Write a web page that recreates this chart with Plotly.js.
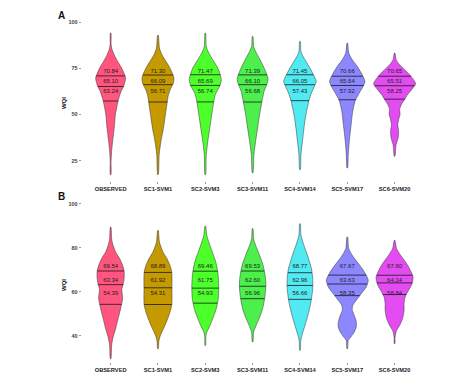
<!DOCTYPE html>
<html><head><meta charset="utf-8">
<script src="https://cdn.plot.ly/plotly-3.0.1.min.js"></script>
<style>html,body{margin:0;padding:0;background:#fff}#chart{width:474px;height:379px}</style>
</head><body><div id="chart"></div>
<script>
// ---- data ----
const categories = ["OBSERVED","SC1-SVM1","SC2-SVM3","SC3-SVM11","SC4-SVM14","SC5-SVM17","SC6-SVM20"];

// Panel A: density profiles (WQI level, relative half-width)
const profileA_y = [
  [94, 87.7, 85, 82.3, 78.7, 75.1, 71.5, 69.7, 67.9, 65.2, 62.5, 57.4, 53.5, 49.9, 42.6, 35.4, 30, 24.6, 17.4],
  [92.8, 85.9, 82.3, 78.7, 75.1, 71.5, 69.7, 67, 64.3, 60.7, 57.4, 49.9, 42.6, 35.4, 28.2, 17.4],
  [94, 87.7, 85, 82.3, 78.7, 75.1, 71.5, 68.8, 66, 63.4, 60.7, 57, 49.9, 42.6, 35.4, 28.2, 17.4],
  [92.2, 86.8, 84.1, 80.5, 76.9, 73.3, 69.7, 67.9, 65.2, 62.5, 57.4, 49.9, 42.6, 35.4, 28.2, 18.3],
  [89.5, 84.1, 81.4, 78.7, 75.1, 71.5, 67.9, 65.2, 61.6, 57.4, 49.9, 42.6, 35.4, 28.2, 20.1],
  [88.6, 83.2, 79.6, 76, 72.4, 67.9, 65.2, 61.6, 57.4, 51.7, 42.6, 35.4, 28.2, 21],
  [83.2, 79.6, 76.9, 74.2, 71.5, 68.8, 66.5, 63.4, 60.7, 58, 55.6, 52.6, 50.2, 47.1, 44.4, 40.8, 37.2, 33.6, 27.3]
];
const profileA_w = [
  [0.3, 0.5, 1.5, 3.5, 7, 11, 14, 15, 14.5, 13, 10.5, 7.5, 6, 4.8, 3.6, 2, 1, 0.4, 0.3],
  [0.3, 1.5, 4, 8, 12, 15, 16, 15.5, 13, 10.5, 9.5, 7.5, 5.5, 3, 1.2, 0.3],
  [0.3, 0.8, 2, 4.5, 8.5, 12.5, 15, 16, 15, 12.5, 10, 8.5, 6.5, 4.5, 2.5, 1, 0.3],
  [0.3, 1, 3, 6.5, 10, 13, 15.3, 15.3, 13.5, 11.5, 9.5, 7, 5, 3, 1.3, 0.3],
  [0.3, 1, 3, 6, 10, 13.5, 16.3, 14.5, 11.5, 9, 6, 4, 2.5, 1, 0.3],
  [0.3, 1.5, 5, 10, 14, 17.7, 16, 12, 8, 5.5, 3.5, 2, 1, 0.3],
  [0.3, 1.5, 5, 10, 15, 19, 21, 17, 13, 10, 7, 5, 5.5, 4, 3.2, 4, 3.5, 1.5, 0.3]
];
const q75A = [70.84, 71.30, 71.47, 71.39, 71.45, 70.66, 70.65];
const medA = [65.10, 66.09, 65.69, 66.10, 66.05, 65.64, 65.51];
const q25A = [57.24, 56.71, 56.74, 56.68, 57.43, 57.92, 58.25];
const labelsA = [
  ["70.84","71.30","71.47","71.39","71.45","70.66","70.65"],
  ["65.10","66.09","65.69","66.10","66.05","65.64","65.51"],
  ["63.24","56.71","56.74","56.68","57.43","57.92","58.25"]
];

// Panel B
const profileB_y = [
  [89.5, 84.2, 81.2, 78.2, 75.2, 72.1, 69.1, 66.1, 63, 61.5, 57, 52.4, 47.9, 43.3, 39.5, 35.8, 29.7],
  [88, 82.7, 78.2, 75.2, 72.1, 69.1, 61.5, 54, 49.4, 46.4, 43.3, 40.3, 38, 34.2],
  [90, 85.8, 82.7, 78.2, 73.6, 69.1, 63, 57, 52.4, 47.9, 44.1, 41.8, 39.5, 35.7],
  [88.8, 84.2, 81.2, 76.7, 72.1, 67.6, 63.8, 58.5, 52.4, 47.9, 44.8, 41.8, 37.3],
  [91, 85.8, 81.2, 76.7, 70.6, 66.1, 61.5, 55.4, 49.4, 44.8, 40.3, 38, 33.5],
  [85, 79.7, 76.7, 73.6, 70.6, 67.6, 65.3, 62.3, 59.2, 56.2, 53.9, 51.7, 49.4, 46.4, 44.1, 41.8, 39.5, 38, 34.2],
  [83.5, 79.7, 76.7, 73.6, 70.6, 66.8, 63.8, 60.8, 57.7, 54.7, 51.7, 47.9, 44.8, 42.6, 39.5, 36.5]
];
const profileB_w = [
  [0.3, 1, 2.5, 5, 9, 12, 13.6, 13.5, 12.3, 11.2, 12, 10, 7.5, 5, 2.5, 1, 0.3],
  [0.3, 1.5, 5, 9, 12, 13.8, 14, 13.8, 11, 8.5, 5.5, 2.5, 1, 0.3],
  [0.3, 1.5, 3.5, 7, 10.5, 12.5, 13.5, 13, 11, 7.5, 4, 1.5, 0.5, 0.3],
  [0.3, 1, 3, 7, 10.5, 12.5, 13.3, 12.5, 10, 6.5, 3.5, 1, 0.3],
  [0.3, 1, 4, 7.5, 11.5, 12.8, 12.8, 11, 8, 5, 2, 0.8, 0.3],
  [0.3, 1.5, 5, 10, 15, 19, 21, 19, 14, 9, 5.5, 5, 7, 9, 9, 7, 3.5, 1, 0.3],
  [0.3, 2, 6, 11, 15, 18.5, 17.5, 14, 10.5, 9.5, 9.5, 8, 5, 2, 0.5, 0.3]
];
const q75B = [69.54, 68.89, 69.46, 69.53, 68.77, 67.67, 67.60];
const medB = [63.34, 61.92, 61.75, 62.60, 62.96, 63.63, 64.14];
const q25B = [54.39, 54.31, 54.93, 56.96, 56.66, 58.35, 58.84];
const labelsB = [
  ["69.54","68.89","69.46","69.53","68.77","67.67","67.60"],
  ["63.34","61.92","61.75","62.60","62.96","63.63","64.14"],
  ["54.39","54.31","54.93","56.96","56.66","58.35","58.84"]
];

// ---- style ----
const colors = ["#FF557F","#C49A00","#4DFF2B","#4CEF4C","#52EAF2","#8C87FF","#E24CF0"];
const WSCALE = 1/47.4;
const LABEL_Y_A = [73.3, 67.9, 62.5];
const LABEL_Y_B = [71.7, 65.3, 59.5];
const FONT = "Liberation Sans, Arial, sans-serif";

function widthAt(ys, ws, v){
  for (let i=0;i<ys.length-1;i++){
    const a=ys[i], b=ys[i+1];
    if ((v<=a && v>=b)){
      const t=(a-v)/(a-b);
      return ws[i]+t*(ws[i+1]-ws[i]);
    }
  }
  return 0;
}

const traces=[];
function addPanel(pys, pws, q75, med, q25, labels, labelY, xa, ya){
  categories.forEach((c,i)=>{
    const ys=pys[i], ws=pws[i];
    const xs=[], yy=[];
    for(let k=0;k<ys.length;k++){ xs.push(i+ws[k]*WSCALE); yy.push(ys[k]); }
    for(let k=ys.length-1;k>=0;k--){ xs.push(i-ws[k]*WSCALE); yy.push(ys[k]); }
    xs.push(xs[0]); yy.push(yy[0]);
    traces.push({type:"scatter",mode:"lines",x:xs,y:yy,xaxis:xa,yaxis:ya,
      fill:"toself",fillcolor:colors[i],
      line:{color:"#333333",width:0.5,shape:"spline",smoothing:0.7},
      hoverinfo:"skip",showlegend:false});
    const lx=[], ly=[];
    [q75[i],med[i],q25[i]].forEach(q=>{
      const w=widthAt(ys,ws,q)*WSCALE;
      lx.push(i-w,i+w,null); ly.push(q,q,null);
    });
    traces.push({type:"scatter",mode:"lines",x:lx,y:ly,xaxis:xa,yaxis:ya,
      line:{color:"#1a1a1a",width:0.8},hoverinfo:"skip",showlegend:false});
    traces.push({type:"scatter",mode:"text",x:[i,i,i],y:labelY,
      text:[labels[0][i],labels[1][i],labels[2][i]],xaxis:xa,yaxis:ya,
      textfont:{family:FONT,size:6,color:"#222"},textposition:"middle center",
      hoverinfo:"skip",showlegend:false});
  });
}
addPanel(profileA_y, profileA_w, q75A, medA, q25A, labelsA, LABEL_Y_A, "x", "y");
addPanel(profileB_y, profileB_w, q75B, medB, q25B, labelsB, LABEL_Y_B, "x2", "y2");

const xCommon = {range:[-0.6,6.6],domain:[0.1735,0.8924],showgrid:false,zeroline:false,showline:false,
  tickmode:"array",tickvals:categories.map((c,i)=>i),ticktext:categories,
  ticks:"outside",ticklen:2,tickwidth:0.6,tickcolor:"#555",
  tickfont:{family:FONT,size:5.7,color:"#222",weight:"bold"}};
const yCommon = {showgrid:false,zeroline:false,showline:false,ticks:"outside",ticklen:2.5,tickwidth:0.6,tickcolor:"#555",
  tickfont:{family:FONT,size:5.5,color:"#444",weight:"bold"}};

const layout = {
  width:474,height:379,margin:{l:0,r:0,t:0,b:0},paper_bgcolor:"#fff",plot_bgcolor:"#fff",showlegend:false,
  xaxis:Object.assign({},xCommon,{anchor:"y"}),
  xaxis2:Object.assign({},xCommon,{anchor:"y2"}),
  yaxis:Object.assign({},yCommon,{range:[14,101],domain:[0.5227,0.9468],tickvals:[25,50,75,100],anchor:"x"}),
  yaxis2:Object.assign({},yCommon,{range:[28,101],domain:[0.0438,0.4676],tickvals:[40,60,80,100],anchor:"x2"}),
  annotations:[
    {text:"A",xref:"paper",yref:"paper",x:0.1308,y:0.9578,showarrow:false,xanchor:"center",yanchor:"middle",font:{family:FONT,size:10,color:"#111",weight:"bold"}},
    {text:"B",xref:"paper",yref:"paper",x:0.1308,y:0.4815,showarrow:false,xanchor:"center",yanchor:"middle",font:{family:FONT,size:10,color:"#111",weight:"bold"}},
    {text:"WQI",xref:"paper",yref:"paper",x:0.135,y:0.728,textangle:-90,showarrow:false,xanchor:"center",yanchor:"middle",font:{family:FONT,size:6,color:"#111",weight:"bold"}},
    {text:"WQI",xref:"paper",yref:"paper",x:0.135,y:0.248,textangle:-90,showarrow:false,xanchor:"center",yanchor:"middle",font:{family:FONT,size:6,color:"#111",weight:"bold"}}
  ]
};
Plotly.newPlot("chart",traces,layout,{staticPlot:true,displayModeBar:false});
</script></body></html>
